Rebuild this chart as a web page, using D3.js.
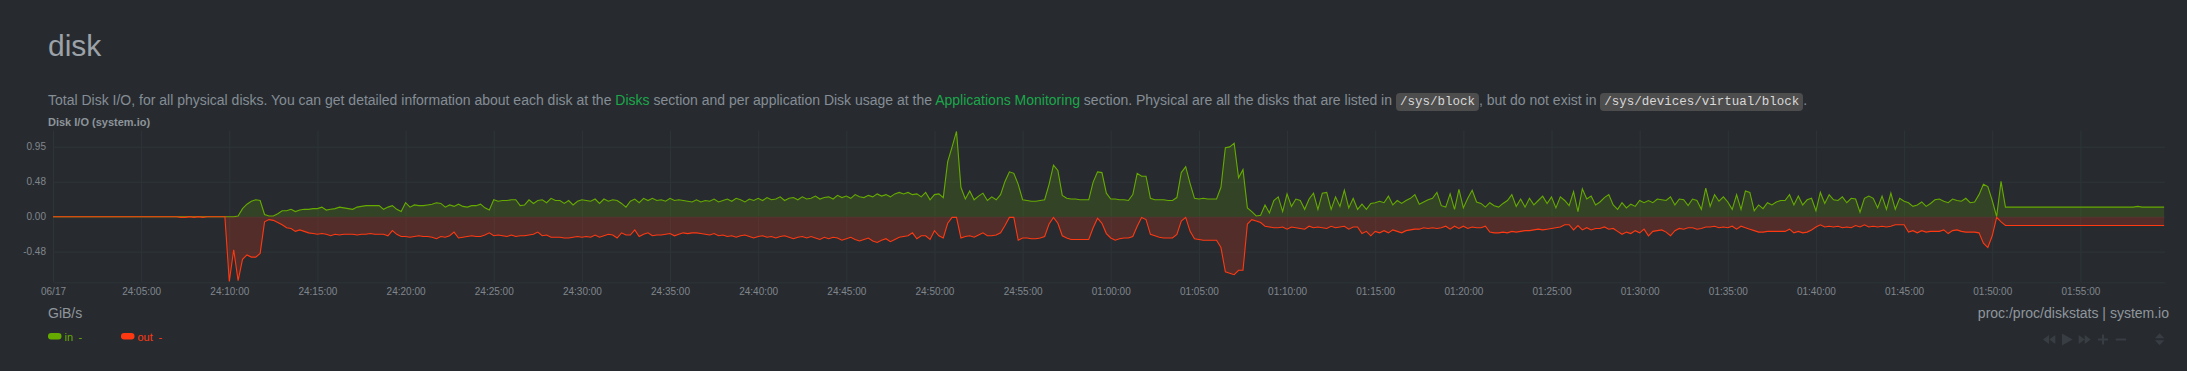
<!DOCTYPE html>
<html>
<head>
<meta charset="utf-8">
<script src="https://cdn.jsdelivr.net/npm/d3@7/dist/d3.min.js"></script>
<style>
body { margin:0; background:#272b30; width:2187px; height:371px; overflow:hidden; position:relative; font-family:"Liberation Sans", Arial, sans-serif; }
#title { position:absolute; left:48px; top:23px; font-size:30px; color:#9ca2a7; line-height:46px; }
#desc { position:absolute; left:48px; top:91px; font-size:14px; line-height:18px; color:#858d95; white-space:nowrap; }
#desc a { color:#1ba74a; text-decoration:none; }
#desc code { font-family:"Liberation Mono", "DejaVu Sans Mono", monospace; font-size:12.5px; background:#4d4d4d; color:#d8d8d8; border-radius:4px; padding:2px 4px; }
#chart { position:absolute; left:0; top:0; }
.axis text { fill:#80868c; font-size:10px; font-family:"Liberation Sans", Arial, sans-serif; }
.axis line, .axis path { stroke:#2d3538; }
</style>
</head>
<body>
<div id="title">disk</div>
<div id="desc">Total Disk I/O, for all physical disks. You can get detailed information about each disk at the <a>Disks</a> section and per application Disk usage at the <a>Applications Monitoring</a> section. Physical are all the disks that are listed in <code>/sys/block</code>, but do not exist in <code>/sys/devices/virtual/block</code>.</div>
<div id="chart"></div>
<script>
//----------------------------------------------------------------------------------------------------------------------------
//DATA (GiB/s, one value every 15 seconds starting 24:00:00)
//----------------------------------------------------------------------------------------------------------------------------
var stepMinutes = 0.25;

var inValues = [
	0,0,0,0, 0,0,0,0, 0,0,0,0, 0,0,0,0, 0,0,0,0, 0,0,0,0, 0,0,0,0, 0,0,0,0, 0,0,0,0, 0,0,0,0,
	0,0,0.01,0.11, 0.17,0.21,0.23,0.22, 0.03,0.01,0.01,0.04, 0.08,0.08,0.10,0.07, 0.09,0.10,0.10,0.11,
	0.11,0.13,0.09,0.10, 0.11,0.13,0.12,0.11, 0.10,0.13,0.14,0.15, 0.15,0.15,0.15,0.10, 0.13,0.15,0.10,0.07,
	0.19,0.13,0.16,0.15, 0.15,0.16,0.17,0.19, 0.18,0.13,0.16,0.14, 0.17,0.14,0.13,0.15, 0.15,0.17,0.12,0.09,
	0.23,0.21,0.22,0.22, 0.23,0.23,0.15,0.16, 0.23,0.18,0.22,0.23, 0.19,0.25,0.22,0.22, 0.18,0.22,0.16,0.21,
	0.23,0.22,0.21,0.24, 0.18,0.24,0.21,0.23, 0.22,0.18,0.13,0.21, 0.24,0.19,0.25,0.22, 0.25,0.22,0.23,0.21,
	0.25,0.22,0.23,0.22, 0.21,0.20,0.23,0.20, 0.22,0.21,0.24,0.20, 0.22,0.24,0.21,0.25, 0.23,0.20,0.24,0.22,
	0.25,0.22,0.26,0.23, 0.24,0.27,0.22,0.25, 0.26,0.23,0.27,0.24, 0.25,0.28,0.24,0.26, 0.27,0.24,0.29,0.26,
	0.28,0.25,0.30,0.27, 0.26,0.29,0.27,0.31, 0.28,0.30,0.27,0.31, 0.33,0.31,0.33,0.30, 0.31,0.27,0.33,0.23,
	0.30,0.31,0.26,0.75, 0.95,1.16,0.40,0.24, 0.35,0.23,0.28,0.32, 0.22,0.27,0.23,0.30, 0.48,0.61,0.59,0.44,
	0.23,0.22,0.21,0.21, 0.22,0.23,0.44,0.70, 0.63,0.29,0.25,0.24, 0.24,0.23,0.23,0.23, 0.47,0.61,0.60,0.32,
	0.24,0.24,0.23,0.23, 0.22,0.30,0.59,0.55, 0.55,0.25,0.23,0.23, 0.23,0.22,0.22,0.26, 0.60,0.68,0.45,0.25,
	0.24,0.25,0.24,0.24, 0.24,0.40,0.94,0.95, 1.00,0.53,0.64,0.12, 0.07,0.01,0.02,0.16, 0.05,0.22,0.27,0.07,
	0.31,0.14,0.24,0.22, 0.10,0.24,0.32,0.10, 0.32,0.33,0.10,0.27, 0.14,0.36,0.12,0.25, 0.10,0.17,0.10,0.18,
	0.19,0.21,0.19,0.28, 0.16,0.22,0.18,0.22, 0.25,0.30,0.17,0.20, 0.23,0.25,0.33,0.15, 0.13,0.31,0.10,0.37,
	0.12,0.25,0.36,0.20, 0.18,0.13,0.19,0.15, 0.13,0.18,0.22,0.30, 0.14,0.24,0.13,0.25, 0.16,0.22,0.28,0.18,
	0.27,0.12,0.27,0.22, 0.15,0.34,0.07,0.38, 0.24,0.28,0.16,0.20, 0.26,0.30,0.16,0.10, 0.19,0.12,0.17,0.14,
	0.22,0.19,0.22,0.19, 0.24,0.23,0.22,0.27, 0.16,0.24,0.23,0.15, 0.24,0.22,0.10,0.39, 0.14,0.30,0.21,0.27,
	0.20,0.10,0.30,0.10, 0.35,0.33,0.08,0.16, 0.11,0.19,0.16,0.20, 0.22,0.22,0.30,0.16, 0.28,0.16,0.23,0.25,
	0.08,0.33,0.18,0.30, 0.23,0.22,0.27,0.19, 0.25,0.24,0.06,0.25, 0.28,0.25,0.12,0.28, 0.10,0.32,0.10,0.25,
	0.21,0.19,0.14,0.16, 0.20,0.14,0.18,0.23, 0.24,0.21,0.19,0.24, 0.22,0.21,0.25,0.19, 0.20,0.30,0.44,0.41,
	0.22,0.00,0.48,0.13, 0.13,0.13,0.13,0.13, 0.13,0.13,0.13,0.13, 0.13,0.13,0.13,0.13, 0.13,0.13,0.13,0.13,
	0.13,0.13,0.13,0.13, 0.13,0.13,0.13,0.13, 0.13,0.13,0.13,0.13, 0.13,0.14,0.13,0.13, 0.13,0.13,0.13,0.13
];

var outValues = [
	0,0,0,0, 0,0,0,0, 0,0,0,0, 0,0,0,0, 0,0,0,0, 0,0,0,0, 0,0,0,0, 0,-0.01,-0.01,0, -0.01,0,-0.01,0, 0,0,0,0,
	-0.88,-0.45,-0.87,-0.58, -0.52,-0.55,-0.55,-0.50, -0.07,-0.04,-0.05,-0.08, -0.11,-0.15,-0.16,-0.20, -0.18,-0.20,-0.22,-0.23,
	-0.24,-0.23,-0.24,-0.26, -0.24,-0.25,-0.24,-0.24, -0.24,-0.25,-0.24,-0.24, -0.23,-0.24,-0.24,-0.24, -0.26,-0.19,-0.24,-0.27,
	-0.27,-0.28,-0.27,-0.26, -0.27,-0.27,-0.28,-0.30, -0.27,-0.28,-0.26,-0.21, -0.29,-0.28,-0.27,-0.26, -0.27,-0.27,-0.25,-0.22,
	-0.26,-0.25,-0.26,-0.27, -0.25,-0.27,-0.26,-0.26, -0.25,-0.24,-0.21,-0.26, -0.25,-0.28,-0.28,-0.28, -0.29,-0.29,-0.28,-0.27,
	-0.28,-0.27,-0.28,-0.25, -0.28,-0.26,-0.24,-0.25, -0.29,-0.22,-0.25,-0.25, -0.18,-0.27,-0.24,-0.22, -0.26,-0.25,-0.25,-0.24,
	-0.23,-0.26,-0.24,-0.22, -0.23,-0.22,-0.22,-0.23, -0.24,-0.25,-0.23,-0.26, -0.25,-0.27,-0.26,-0.28, -0.26,-0.25,-0.27,-0.29,
	-0.27,-0.26,-0.28,-0.27, -0.29,-0.27,-0.26,-0.28, -0.30,-0.28,-0.27,-0.29, -0.27,-0.29,-0.31,-0.28, -0.30,-0.28,-0.29,-0.32,
	-0.30,-0.28,-0.31,-0.33, -0.31,-0.29,-0.33,-0.35, -0.32,-0.30,-0.34,-0.31, -0.28,-0.27,-0.26,-0.22, -0.30,-0.26,-0.26,-0.31,
	-0.19,-0.26,-0.29,-0.09, -0.01,-0.01,-0.29,-0.27, -0.26,-0.28,-0.25,-0.22, -0.26,-0.26,-0.25,-0.22, -0.12,-0.01,-0.01,-0.32,
	-0.29,-0.29,-0.30,-0.30, -0.29,-0.27,-0.10,-0.01, -0.09,-0.26,-0.29,-0.31, -0.31,-0.31,-0.31,-0.31, -0.15,-0.02,-0.09,-0.23,
	-0.29,-0.32,-0.30,-0.29, -0.29,-0.27,-0.13,-0.01, -0.04,-0.24,-0.26,-0.28, -0.29,-0.29,-0.29,-0.24, -0.06,-0.01,-0.20,-0.30,
	-0.31,-0.32,-0.32,-0.32, -0.32,-0.42,-0.75,-0.77, -0.79,-0.73,-0.73,-0.10, -0.04,-0.06,-0.08,-0.13, -0.14,-0.15,-0.15,-0.14,
	-0.17,-0.14,-0.15,-0.16, -0.17,-0.13,-0.15,-0.14, -0.15,-0.16,-0.13,-0.15, -0.14,-0.13,-0.17,-0.14, -0.14,-0.23,-0.20,-0.26,
	-0.20,-0.22,-0.19,-0.22, -0.18,-0.20,-0.22,-0.19, -0.18,-0.17,-0.17,-0.15, -0.16,-0.15,-0.16,-0.15, -0.13,-0.17,-0.13,-0.16,
	-0.13,-0.16,-0.14,-0.15, -0.15,-0.13,-0.21,-0.22, -0.22,-0.21,-0.22,-0.20, -0.21,-0.20,-0.19,-0.19, -0.18,-0.17,-0.18,-0.17,
	-0.16,-0.15,-0.14,-0.11, -0.11,-0.18,-0.12,-0.18, -0.15,-0.18,-0.16,-0.16, -0.14,-0.17,-0.16,-0.20, -0.24,-0.21,-0.23,-0.19,
	-0.22,-0.17,-0.26,-0.20, -0.19,-0.18,-0.21,-0.26, -0.19,-0.16,-0.17,-0.15, -0.15,-0.17,-0.16,-0.14, -0.14,-0.13,-0.15,-0.14,
	-0.15,-0.13,-0.17,-0.13, -0.15,-0.17,-0.19,-0.21, -0.21,-0.20,-0.20,-0.20, -0.20,-0.20,-0.17,-0.22, -0.20,-0.22,-0.21,-0.18,
	-0.14,-0.11,-0.14,-0.13, -0.14,-0.13,-0.15,-0.14, -0.15,-0.12,-0.14,-0.11, -0.14,-0.13,-0.14,-0.13, -0.14,-0.13,-0.11,-0.11,
	-0.11,-0.21,-0.19,-0.22, -0.19,-0.21,-0.20,-0.20, -0.20,-0.18,-0.23,-0.19, -0.18,-0.20,-0.21,-0.21, -0.21,-0.22,-0.36,-0.42,
	-0.26,-0.01,-0.07,-0.12, -0.12,-0.12,-0.12,-0.12, -0.12,-0.12,-0.12,-0.12, -0.12,-0.12,-0.12,-0.12, -0.12,-0.12,-0.12,-0.12,
	-0.12,-0.12,-0.12,-0.12, -0.12,-0.12,-0.12,-0.12, -0.12,-0.12,-0.12,-0.12, -0.12,-0.12,-0.12,-0.12, -0.12,-0.12,-0.12,-0.12
];

var xTickMinutes = [0,5,10,15,20,25,30,35,40,45,50,55,60,65,70,75,80,85,90,95,100,105,110,115];
var xTickLabels = ["06/17","24:05:00","24:10:00","24:15:00","24:20:00","24:25:00","24:30:00","24:35:00",
	"24:40:00","24:45:00","24:50:00","24:55:00","01:00:00","01:05:00","01:10:00","01:15:00","01:20:00",
	"01:25:00","01:30:00","01:35:00","01:40:00","01:45:00","01:50:00","01:55:00"];
var yTickValues = [0.952, 0.476, 0, -0.476];
var yTickLabels = ["0.95","0.48","0.00","-0.48"];

var seriesNames = ["in","out"];
var seriesColors = ["#66aa00","#fe3912"];

//----------------------------------------------------------------------------------------------------------------------------
//CANVAS
//----------------------------------------------------------------------------------------------------------------------------
var dim = {left:53, right:2165, top:130.7, bottom:282.3};

var svg = d3.select("#chart").append("svg")
	.attr("width", 2187)
	.attr("height", 371);

var x = d3.scaleLinear().domain([0, 119.8]).range([dim.left, dim.right]);
var y = d3.scaleLinear().domain([-0.893, 1.17]).range([dim.bottom, dim.top]);

//----------------------------------------------------------------------------------------------------------------------------
//AXIS + GRID
//----------------------------------------------------------------------------------------------------------------------------
svg.append("g")
	.attr("class", "axis x-axis")
	.attr("transform", "translate(0," + dim.bottom + ")")
	.call(d3.axisBottom(x)
		.tickValues(xTickMinutes)
		.tickFormat(function(d, i){ return xTickLabels[i]; })
		.tickSize(-(dim.bottom - dim.top))
		.tickSizeOuter(0)
		.tickPadding(6));

svg.append("g")
	.attr("class", "axis y-axis")
	.attr("transform", "translate(" + dim.left + ",0)")
	.call(d3.axisLeft(y)
		.tickValues(yTickValues)
		.tickFormat(function(d, i){ return yTickLabels[i]; })
		.tickSize(-(dim.right - dim.left))
		.tickPadding(7))
	.call(function(g){ g.select(".domain").remove(); });

//----------------------------------------------------------------------------------------------------------------------------
//SERIES
//----------------------------------------------------------------------------------------------------------------------------
function drawSeries(values, color){
	var area = d3.area()
		.x(function(d, i){ return x(i * stepMinutes); })
		.y0(y(0))
		.y1(function(d){ return y(d); });
	var line = d3.line()
		.x(function(d, i){ return x(i * stepMinutes); })
		.y(function(d){ return y(d); });

	svg.append("path").datum(values)
		.attr("d", area)
		.attr("fill", color)
		.attr("fill-opacity", 0.2);
	svg.append("path").datum(values)
		.attr("d", line)
		.attr("fill", "none")
		.attr("stroke", color)
		.attr("stroke-width", 1.1);
}

drawSeries(inValues, seriesColors[0]);
drawSeries(outValues, seriesColors[1]);

//----------------------------------------------------------------------------------------------------------------------------
//TEXTS / LEGEND
//----------------------------------------------------------------------------------------------------------------------------
svg.append("text")
	.attr("x", 48).attr("y", 126)
	.attr("font-size", 11).attr("font-weight", "bold")
	.attr("fill", "#8d949a")
	.text("Disk I/O (system.io)");

svg.append("text")
	.attr("x", 48).attr("y", 318)
	.attr("font-size", 14).attr("fill", "#8f969c")
	.text("GiB/s");

svg.append("text")
	.attr("x", 2169).attr("y", 318)
	.attr("text-anchor", "end")
	.attr("font-size", 14).attr("fill", "#8f969c")
	.text("proc:/proc/diskstats | system.io");

var legendX = [48, 121];
var legend = svg.selectAll(".legend").data(seriesNames).enter().append("g")
	.attr("class", "legend")
	.attr("transform", function(d, i){ return "translate(" + legendX[i] + ",333)"; });
legend.append("rect")
	.attr("width", 13.5).attr("height", 6.5).attr("rx", 3.2)
	.attr("fill", function(d, i){ return seriesColors[i]; });
legend.append("text")
	.attr("x", 16.5).attr("y", 7.5)
	.attr("font-size", 11)
	.attr("fill", function(d, i){ return seriesColors[i]; })
	.text(function(d){ return d; });
legend.append("text")
	.attr("x", function(d, i){ return i == 0 ? 30.5 : 37.5; }).attr("y", 7.5)
	.attr("font-size", 11)
	.attr("fill", function(d, i){ return seriesColors[i]; })
	.text("-");

//Toolbox icons (dim)
var icons = svg.append("g").attr("fill", "#383d43");
icons.append("path").attr("d", "M2049,335 L2049,344 L2043,339.5 Z M2055.3,335 L2055.3,344 L2049.3,339.5 Z");
icons.append("path").attr("d", "M2062,333.5 L2062,345.5 L2072.7,339.5 Z");
icons.append("path").attr("d", "M2078.7,335 L2078.7,344 L2084.7,339.5 Z M2084.7,335 L2084.7,344 L2090.7,339.5 Z");
icons.append("path").attr("d", "M2102,334.5 h2 v4 h4 v2 h-4 v4 h-2 v-4 h-4 v-2 h4 Z");
icons.append("rect").attr("x", 2115.7).attr("y", 338.5).attr("width", 10.3).attr("height", 2);
icons.append("path").attr("d", "M2159.6,333.3 L2164.3,338.3 L2155,338.3 Z M2155,340.2 L2164.3,340.2 L2159.6,345.2 Z");
</script>
</body>
</html>
